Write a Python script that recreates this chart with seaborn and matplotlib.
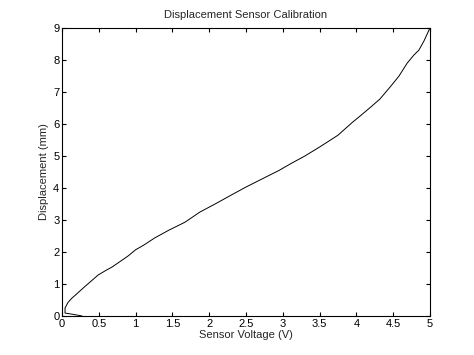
import matplotlib
matplotlib.use("Agg")
import matplotlib.pyplot as plt
import seaborn as sns
import pandas as pd

voltage = [0.27, 0.15, 0.04, 0.04, 0.08, 0.13, 0.18, 0.30, 0.40, 0.49, 0.60, 0.68, 0.80, 0.90,
           1.00, 1.10, 1.26, 1.45, 1.67, 1.875, 2.08, 2.30, 2.50, 2.75, 2.95, 3.10, 3.30, 3.50,
           3.75, 3.95, 4.02, 4.18, 4.32, 4.46, 4.58, 4.69, 4.78, 4.85, 4.92, 5.00]
displacement = [0.00, 0.05, 0.09, 0.25, 0.42, 0.55, 0.65, 0.90, 1.10, 1.28, 1.43, 1.53, 1.72, 1.88,
                2.07, 2.20, 2.44, 2.68, 2.93, 3.25, 3.50, 3.78, 4.03, 4.32, 4.55, 4.75, 5.00, 5.28,
                5.65, 6.06, 6.19, 6.50, 6.78, 7.16, 7.50, 7.90, 8.15, 8.31, 8.60, 9.00]

df = pd.DataFrame({"v": voltage, "d": displacement})

sns.set_style("white")
plt.rcParams["font.family"] = ["Liberation Sans", "DejaVu Sans"]

fig = plt.figure(figsize=(4.74, 3.55), dpi=100)
ax = fig.add_axes([0.131, 0.110, 0.776, 0.811])
sns.lineplot(data=df, x="v", y="d", sort=False, estimator=None, color="black",
             linewidth=0.7, ax=ax)

ax.set_xlim(0, 5)
ax.set_ylim(0, 9)
ax.set_xticks([0, 0.5, 1, 1.5, 2, 2.5, 3, 3.5, 4, 4.5, 5])
ax.set_xticklabels(["0", "0.5", "1", "1.5", "2", "2.5", "3", "3.5", "4", "4.5", "5"])
ax.set_yticks(range(10))
ax.tick_params(direction="in", length=3, width=0.8, labelsize=8, colors="black", pad=2,
               top=True, right=True, bottom=True, left=True)
for s in ax.spines.values():
    s.set_visible(True)
    s.set_color("black")
    s.set_linewidth(0.8)
ax.set_xlabel("Sensor Voltage (V)", fontsize=8, labelpad=1)
ax.set_ylabel("Displacement (mm)", fontsize=8, labelpad=3)
ax.set_title("Displacement Sensor Calibration", fontsize=8, pad=7)

fig.savefig("out.png", dpi=100)
